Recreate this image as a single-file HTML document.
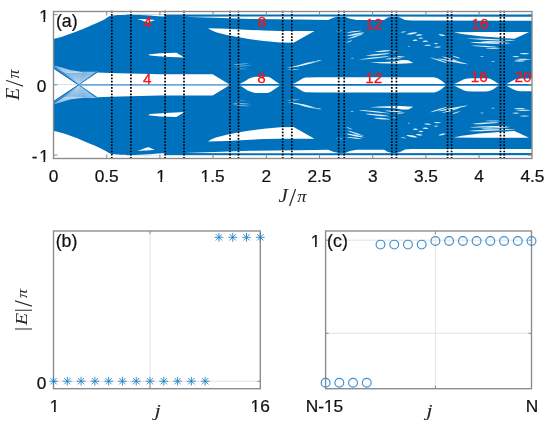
<!DOCTYPE html>
<html><head><meta charset="utf-8"><title>Figure</title>
<style>html,body{margin:0;padding:0;background:#fff;} svg{display:block;}</style>
</head><body>
<svg width="550" height="429" viewBox="0 0 550 429">
<defs><linearGradient id="fang" x1="0" y1="66" x2="0" y2="84" gradientUnits="userSpaceOnUse"><stop offset="0" stop-color="#7fb5e3"/><stop offset="0.5" stop-color="#cfe3f5"/><stop offset="1" stop-color="#eef5fc"/></linearGradient></defs>
<style>.t{stroke:#111;stroke-width:0.22px;}</style>
<rect width="550" height="429" fill="#fff"/>
<line x1="106.70" y1="11.5" x2="106.70" y2="158.5" stroke="#e3e3e3" stroke-width="1"/>
<line x1="159.90" y1="11.5" x2="159.90" y2="158.5" stroke="#e3e3e3" stroke-width="1"/>
<line x1="213.10" y1="11.5" x2="213.10" y2="158.5" stroke="#e3e3e3" stroke-width="1"/>
<line x1="266.30" y1="11.5" x2="266.30" y2="158.5" stroke="#e3e3e3" stroke-width="1"/>
<line x1="319.50" y1="11.5" x2="319.50" y2="158.5" stroke="#e3e3e3" stroke-width="1"/>
<line x1="372.70" y1="11.5" x2="372.70" y2="158.5" stroke="#e3e3e3" stroke-width="1"/>
<line x1="425.90" y1="11.5" x2="425.90" y2="158.5" stroke="#e3e3e3" stroke-width="1"/>
<line x1="479.10" y1="11.5" x2="479.10" y2="158.5" stroke="#e3e3e3" stroke-width="1"/>
<line x1="53.5" y1="14.6" x2="532.0" y2="14.6" stroke="#e3e3e3" stroke-width="1"/>
<line x1="53.5" y1="84.85" x2="532.0" y2="84.85" stroke="#e3e3e3" stroke-width="1"/>
<line x1="53.5" y1="155.1" x2="532.0" y2="155.1" stroke="#e3e3e3" stroke-width="1"/>
<rect x="53.5" y="14.6" width="478.5" height="140.5" fill="#0072bd"/>
<g>
<polygon points="185.50,16.70 250.00,16.50 300.00,16.50 532.00,16.70 532.00,20.80 412.00,20.60 405.00,20.10 400.00,17.60 396.00,16.60 392.00,16.60 388.00,17.60 384.00,20.00 357.00,20.00 350.00,18.80 345.00,16.70 339.00,16.60 334.00,17.60 328.00,19.90 300.00,19.40 250.00,18.90 215.00,17.80 190.00,17.00" fill="#fff" />
<polygon points="128.00,14.50 140.00,14.90 150.00,15.50 158.00,16.20 164.30,16.40 165.20,14.50" fill="#fff" />
<polygon points="208.00,28.30 226.80,28.80 250.00,29.90 264.00,30.60 280.00,30.90 314.50,30.90 293.60,42.70 280.00,42.40 264.00,40.90 248.60,39.00 237.70,37.10 226.80,34.90 215.90,32.20 211.00,30.10" fill="#fff" />
<polygon points="148.20,54.40 160.00,53.30 176.40,52.70 184.50,57.60 170.00,57.00 158.00,56.20 150.00,55.60" fill="#fff" />
<path d="M137.30,18.90 C138.75,18.95 143.15,19.03 146.00,19.20 C148.85,19.37 153.43,19.60 154.40,19.90 C155.37,20.20 152.78,20.58 151.80,21.00 C150.82,21.42 149.63,22.32 148.50,22.40 C147.37,22.48 146.25,21.90 145.00,21.50 C143.75,21.10 141.67,20.25 141.00,20.00 Z" fill="#fff" />
<polygon points="453.80,32.30 480.00,31.90 529.00,31.90 521.00,35.80 514.30,38.80 500.00,37.80 480.00,36.20 462.00,34.00" fill="#fff" />
<polygon points="369.60,62.40 385.00,62.00 395.00,61.50 402.00,60.10 408.40,60.30 413.20,63.00 400.00,63.70 380.00,63.30" fill="#fff" />
<path d="M346.00,32.60 C350.09,32.99 358.09,32.09 362.00,30.80 C357.91,30.41 349.91,31.31 346.00,32.60Z" fill="#fff" opacity="0.9"/>
<path d="M346.00,36.00 C350.82,36.12 360.07,34.32 364.50,32.40 C359.68,32.28 350.43,34.08 346.00,36.00Z" fill="#fff" opacity="0.9"/>
<path d="M347.00,39.20 C351.51,38.60 360.01,35.80 364.00,33.60 C359.49,34.20 350.99,37.00 347.00,39.20Z" fill="#fff" opacity="0.85"/>
<path d="M346.00,42.80 C347.86,42.78 351.11,41.53 352.50,40.30 C350.64,40.32 347.39,41.57 346.00,42.80Z" fill="#fff" opacity="0.7"/>
<path d="M336.00,31.50 C337.82,31.86 341.32,31.41 343.00,30.60 C341.18,30.24 337.68,30.69 336.00,31.50Z" fill="#fff" opacity="0.5"/>
<path d="M400.40,32.60 C402.03,32.94 405.03,32.34 406.40,31.40 C404.77,31.06 401.77,31.66 400.40,32.60Z" fill="#fff" opacity="0.6"/>
<path d="M406.40,34.40 C409.34,35.05 414.79,34.05 417.30,32.40 C414.36,31.75 408.91,32.75 406.40,34.40Z" fill="#fff" opacity="0.95"/>
<path d="M415.60,35.30 C417.46,36.19 421.01,35.89 422.70,34.70 C420.84,33.81 417.29,34.11 415.60,35.30Z" fill="#fff" opacity="0.9"/>
<path d="M418.40,38.20 C419.69,39.08 422.24,39.03 423.50,38.10 C422.21,37.22 419.66,37.27 418.40,38.20Z" fill="#fff" opacity="0.85"/>
<path d="M412.50,40.40 C413.89,41.35 416.64,41.30 418.00,40.30 C416.61,39.35 413.86,39.40 412.50,40.40Z" fill="#fff" opacity="0.85"/>
<path d="M422.20,41.40 C423.79,42.35 426.94,42.30 428.50,41.30 C426.91,40.35 423.76,40.40 422.20,41.40Z" fill="#fff" opacity="0.85"/>
<path d="M433.60,43.60 C434.83,44.45 437.27,44.45 438.50,43.60 C437.27,42.76 434.83,42.76 433.60,43.60Z" fill="#fff" opacity="0.8"/>
<path d="M423.80,45.60 C425.73,46.37 429.53,46.22 431.40,45.30 C429.47,44.53 425.67,44.68 423.80,45.60Z" fill="#fff" opacity="0.8"/>
<path d="M433.60,47.20 C435.56,47.97 439.41,47.82 441.30,46.90 C439.34,46.13 435.49,46.28 433.60,47.20Z" fill="#fff" opacity="0.8"/>
<path d="M438.50,34.40 C440.07,35.73 443.62,36.48 445.60,35.90 C444.03,34.57 440.48,33.82 438.50,34.40Z" fill="#fff" opacity="0.85"/>
<path d="M407.50,46.40 C408.12,47.05 409.38,47.05 410.00,46.40 C409.38,45.75 408.12,45.75 407.50,46.40Z" fill="#fff" opacity="0.6"/>
<path d="M373.60,51.80 C378.12,52.29 387.02,51.59 391.40,50.40 C386.88,49.91 377.98,50.61 373.60,51.80Z" fill="#fff" opacity="0.85"/>
<path d="M365.50,55.80 C371.71,56.04 383.96,54.84 390.00,53.40 C383.79,53.16 371.54,54.36 365.50,55.80Z" fill="#fff" opacity="0.85"/>
<path d="M358.60,59.60 C366.54,59.59 382.24,57.89 390.00,56.20 C382.06,56.21 366.36,57.91 358.60,59.60Z" fill="#fff" opacity="0.85"/>
<path d="M350.50,58.30 C351.43,58.87 353.18,58.72 354.00,58.00 C353.07,57.43 351.32,57.58 350.50,58.30Z" fill="#fff" opacity="0.6"/>
<path d="M384.60,59.00 C389.07,59.53 397.92,59.03 402.30,58.00 C397.83,57.47 388.98,57.97 384.60,59.00Z" fill="#fff" opacity="0.8"/>
<path d="M394.00,56.20 C396.70,57.15 402.20,57.50 405.00,56.90 C402.30,55.95 396.80,55.60 394.00,56.20Z" fill="#fff" opacity="0.8"/>
<path d="M392.00,52.00 C393.28,52.60 395.78,52.50 397.00,51.80 C395.72,51.20 393.22,51.30 392.00,52.00Z" fill="#fff" opacity="0.6"/>
<path d="M287.00,67.80 C291.86,67.62 301.36,65.97 306.00,64.50 C301.14,64.68 291.64,66.33 287.00,67.80Z" fill="#fff" opacity="0.75"/>
<path d="M293.00,67.00 C297.90,66.70 307.40,64.70 312.00,63.00 C307.10,63.30 297.60,65.30 293.00,67.00Z" fill="#fff" opacity="0.85"/>
<path d="M298.00,65.30 C302.88,65.13 312.38,63.38 317.00,61.80 C312.12,61.97 302.62,63.72 298.00,65.30Z" fill="#fff" opacity="0.85"/>
<path d="M303.00,63.80 C306.86,63.68 314.36,62.28 318.00,61.00 C314.14,61.12 306.64,62.52 303.00,63.80Z" fill="#fff" opacity="0.7"/>
<path d="M316.00,61.20 C317.45,61.70 320.20,61.40 321.50,60.60 C320.05,60.10 317.30,60.40 316.00,61.20Z" fill="#fff" opacity="0.8"/>
<path d="M287.00,69.20 C290.22,69.92 296.72,70.32 300.00,70.00 C296.78,69.28 290.28,68.88 287.00,69.20Z" fill="#fff" opacity="0.6"/>
<path d="M232.30,66.50 C237.23,66.83 247.03,66.33 251.90,65.50 C246.97,65.17 237.17,65.67 232.30,66.50Z" fill="#fff" opacity="0.5"/>
<path d="M232.00,65.10 C236.56,65.23 245.56,64.33 250.00,63.30 C245.44,63.17 236.44,64.07 232.00,65.10Z" fill="#fff" opacity="0.5"/>
<path d="M235.00,68.70 C237.98,69.32 243.98,69.52 247.00,69.10 C244.02,68.48 238.02,68.28 235.00,68.70Z" fill="#fff" opacity="0.45"/>
<path d="M430.00,57.50 C434.52,59.70 444.02,62.60 449.00,63.30 C444.48,61.10 434.98,58.20 430.00,57.50Z" fill="#fff" opacity="0.85"/>
<path d="M437.60,58.50 C445.07,60.88 460.37,63.73 468.20,64.20 C460.73,61.82 445.43,58.97 437.60,58.50Z" fill="#fff" opacity="0.9"/>
<path d="M441.50,56.60 C446.01,58.83 455.51,61.68 460.50,62.30 C455.99,60.07 446.49,57.22 441.50,56.60Z" fill="#fff" opacity="0.85"/>
<path d="M451.00,55.60 C453.17,57.01 457.92,58.46 460.50,58.50 C458.33,57.09 453.58,55.64 451.00,55.60Z" fill="#fff" opacity="0.8"/>
<path d="M480.00,56.60 C481.00,57.25 483.00,57.25 484.00,56.60 C483.00,55.95 481.00,55.95 480.00,56.60Z" fill="#fff" opacity="0.6"/>
<path d="M491.00,61.40 C492.00,62.05 494.00,62.05 495.00,61.40 C494.00,60.75 492.00,60.75 491.00,61.40Z" fill="#fff" opacity="0.6"/>
<path d="M512.00,56.60 C513.92,57.38 517.78,57.38 519.70,56.60 C517.78,55.82 513.92,55.82 512.00,56.60Z" fill="#fff" opacity="0.85"/>
<path d="M519.70,53.70 C522.08,54.48 526.83,54.48 529.20,53.70 C526.83,52.92 522.08,52.92 519.70,53.70Z" fill="#fff" opacity="0.85"/>
<path d="M514.00,61.00 C516.85,61.84 522.55,61.84 525.40,61.00 C522.55,60.16 516.85,60.16 514.00,61.00Z" fill="#fff" opacity="0.85"/>
<path d="M515.90,59.30 C519.66,60.13 527.21,60.23 531.00,59.50 C527.24,58.67 519.69,58.57 515.90,59.30Z" fill="#fff" opacity="0.8"/>
<path d="M485.30,48.60 C489.12,49.25 496.78,49.25 500.60,48.60 C496.78,47.95 489.12,47.95 485.30,48.60Z" fill="#fff" opacity="0.7"/>
<path d="M466.00,38.60 C478.46,40.01 503.46,41.01 516.00,40.60 C503.54,39.19 478.54,38.19 466.00,38.60Z" fill="#fff" opacity="0.9"/>
<path d="M469.50,42.40 C479.73,43.56 500.23,44.06 510.50,43.40 C500.27,42.24 479.77,41.74 469.50,42.40Z" fill="#fff" opacity="0.9"/>
<path d="M471.00,45.60 C477.95,46.87 491.95,47.72 499.00,47.30 C492.05,46.03 478.05,45.18 471.00,45.60Z" fill="#fff" opacity="0.85"/>
<path d="M480.00,41.20 C487.38,42.16 502.18,42.66 509.60,42.20 C502.22,41.24 487.42,40.74 480.00,41.20Z" fill="#fff" opacity="0.8"/>
<polygon points="79.30,84.85 97.50,72.40 110.00,72.90 140.00,73.70 160.00,74.20 212.70,74.30 218.00,77.50 225.00,81.80 230.00,84.85" fill="#fff" />
<path d="M238.10,84.85 C239.07,84.34 242.20,82.79 243.90,81.80 C245.60,80.81 246.60,79.70 248.30,78.90 C250.00,78.10 251.98,77.35 254.10,77.00 C256.22,76.65 258.58,76.80 261.00,76.80 C263.42,76.80 266.35,76.40 268.60,77.00 C270.85,77.60 272.43,79.09 274.50,80.40 C276.57,81.71 279.92,84.11 281.00,84.85 Z" fill="#fff" />
<polygon points="290.50,84.85 295.00,83.10 299.00,80.70 302.50,78.50 305.50,77.50 320.00,77.30 380.00,77.30 434.00,77.30 437.50,78.20 441.00,80.30 444.00,82.80 446.40,84.85" fill="#fff" />
<polygon points="452.00,84.85 456.00,83.30 460.00,81.20 464.00,79.30 467.50,78.40 472.00,78.20 486.00,78.20 489.50,78.60 493.00,80.30 496.50,82.60 500.00,84.85" fill="#fff" />
<polygon points="504.50,84.85 508.00,83.30 512.00,81.00 516.00,79.10 520.00,78.50 532.00,78.40 532.00,84.85" fill="#fff" />
<polygon points="53.80,68.40 78.60,84.85 53.80,84.85" fill="#fff" />
<polygon points="53.80,65.40 62.00,67.60 70.10,70.10 81.20,71.80 94.90,71.80 98.30,71.60 95.70,72.30 78.60,84.85 53.80,68.40" fill="url(#fang)" />
<path d="M53.80,68.18 C56.56,70.01 74.55,82.05 77.48,83.88 C80.40,85.71 76.87,85.24 78.88,83.88 C80.89,82.53 92.85,73.62 94.70,72.27" fill="none" stroke="#2a82c9" stroke-width="0.55" opacity="0.48"/>
<path d="M53.80,67.95 C56.43,69.70 73.39,81.17 76.35,82.91 C79.31,84.66 77.13,84.16 79.16,82.91 C81.18,81.67 92.00,73.48 93.70,72.24" fill="none" stroke="#2a82c9" stroke-width="0.55" opacity="0.51"/>
<path d="M53.80,67.73 C56.30,69.39 72.23,80.28 75.23,81.94 C78.22,83.60 77.40,83.08 79.44,81.94 C81.47,80.81 91.15,73.34 92.70,72.21" fill="none" stroke="#2a82c9" stroke-width="0.55" opacity="0.54"/>
<path d="M53.80,67.51 C56.17,69.08 71.08,79.40 74.10,80.97 C77.12,82.54 77.66,82.00 79.71,80.97 C81.77,79.95 90.30,73.20 91.70,72.18" fill="none" stroke="#2a82c9" stroke-width="0.55" opacity="0.57"/>
<path d="M53.80,67.28 C56.04,68.77 69.92,78.52 72.98,80.00 C76.03,81.49 77.93,80.92 79.99,80.00 C82.06,79.09 89.45,73.06 90.70,72.15" fill="none" stroke="#2a82c9" stroke-width="0.55" opacity="0.60"/>
<path d="M53.80,67.06 C55.91,68.46 68.76,77.64 71.85,79.03 C74.94,80.43 78.19,79.84 80.27,79.03 C82.35,78.23 88.60,72.92 89.70,72.12" fill="none" stroke="#2a82c9" stroke-width="0.55" opacity="0.63"/>
<path d="M53.80,66.84 C55.77,68.15 67.60,76.76 70.73,78.07 C73.85,79.38 78.45,78.76 80.55,78.07 C82.65,77.37 87.75,72.78 88.70,72.08" fill="none" stroke="#2a82c9" stroke-width="0.55" opacity="0.67"/>
<path d="M53.80,66.62 C55.64,67.84 66.45,75.87 69.60,77.10 C72.75,78.32 78.72,77.68 80.83,77.10 C82.94,76.51 86.90,72.64 87.70,72.05" fill="none" stroke="#2a82c9" stroke-width="0.55" opacity="0.70"/>
<path d="M53.80,66.39 C55.51,67.53 65.29,74.99 68.48,76.13 C71.66,77.26 78.98,76.61 81.11,76.13 C83.23,75.65 86.05,72.50 86.70,72.02" fill="none" stroke="#2a82c9" stroke-width="0.55" opacity="0.73"/>
<path d="M53.80,66.17 C55.38,67.22 64.13,74.11 67.35,75.16 C70.57,76.21 79.25,75.53 81.39,75.16 C83.53,74.79 85.20,72.36 85.70,71.99" fill="none" stroke="#2a82c9" stroke-width="0.55" opacity="0.76"/>
<path d="M53.80,65.95 C55.25,66.91 62.98,73.23 66.23,74.19 C69.48,75.15 79.51,74.45 81.67,74.19 C83.82,73.93 84.35,72.22 84.70,71.96" fill="none" stroke="#2a82c9" stroke-width="0.55" opacity="0.79"/>
<path d="M53.80,65.72 C55.12,66.60 61.82,72.34 65.10,73.22 C68.38,74.09 79.77,73.37 81.94,73.22 C84.11,73.07 83.50,72.08 83.70,71.93" fill="none" stroke="#2a82c9" stroke-width="0.55" opacity="0.82"/>
<polyline points="53.8,68.4 78.6,84.85" fill="none" stroke="#0072bd" stroke-width="1.0"/>
<polyline points="78.6,84.85 95.7,72.3" fill="none" stroke="#3585cc" stroke-width="0.8"/>
</g>
<g transform="translate(0,169.7) scale(1,-1)">
<polygon points="185.50,16.70 250.00,16.50 300.00,16.50 532.00,16.70 532.00,20.80 412.00,20.60 405.00,20.10 400.00,17.60 396.00,16.60 392.00,16.60 388.00,17.60 384.00,20.00 357.00,20.00 350.00,18.80 345.00,16.70 339.00,16.60 334.00,17.60 328.00,19.90 300.00,19.40 250.00,18.90 215.00,17.80 190.00,17.00" fill="#fff" />
<polygon points="128.00,14.50 140.00,14.90 150.00,15.50 158.00,16.20 164.30,16.40 165.20,14.50" fill="#fff" />
<polygon points="208.00,28.30 226.80,28.80 250.00,29.90 264.00,30.60 280.00,30.90 314.50,30.90 293.60,42.70 280.00,42.40 264.00,40.90 248.60,39.00 237.70,37.10 226.80,34.90 215.90,32.20 211.00,30.10" fill="#fff" />
<polygon points="148.20,54.40 160.00,53.30 176.40,52.70 184.50,57.60 170.00,57.00 158.00,56.20 150.00,55.60" fill="#fff" />
<path d="M137.30,18.90 C138.75,18.95 143.15,19.03 146.00,19.20 C148.85,19.37 153.43,19.60 154.40,19.90 C155.37,20.20 152.78,20.58 151.80,21.00 C150.82,21.42 149.63,22.32 148.50,22.40 C147.37,22.48 146.25,21.90 145.00,21.50 C143.75,21.10 141.67,20.25 141.00,20.00 Z" fill="#fff" />
<polygon points="453.80,32.30 480.00,31.90 529.00,31.90 521.00,35.80 514.30,38.80 500.00,37.80 480.00,36.20 462.00,34.00" fill="#fff" />
<polygon points="369.60,62.40 385.00,62.00 395.00,61.50 402.00,60.10 408.40,60.30 413.20,63.00 400.00,63.70 380.00,63.30" fill="#fff" />
<path d="M346.00,32.60 C350.09,32.99 358.09,32.09 362.00,30.80 C357.91,30.41 349.91,31.31 346.00,32.60Z" fill="#fff" opacity="0.9"/>
<path d="M346.00,36.00 C350.82,36.12 360.07,34.32 364.50,32.40 C359.68,32.28 350.43,34.08 346.00,36.00Z" fill="#fff" opacity="0.9"/>
<path d="M347.00,39.20 C351.51,38.60 360.01,35.80 364.00,33.60 C359.49,34.20 350.99,37.00 347.00,39.20Z" fill="#fff" opacity="0.85"/>
<path d="M346.00,42.80 C347.86,42.78 351.11,41.53 352.50,40.30 C350.64,40.32 347.39,41.57 346.00,42.80Z" fill="#fff" opacity="0.7"/>
<path d="M336.00,31.50 C337.82,31.86 341.32,31.41 343.00,30.60 C341.18,30.24 337.68,30.69 336.00,31.50Z" fill="#fff" opacity="0.5"/>
<path d="M400.40,32.60 C402.03,32.94 405.03,32.34 406.40,31.40 C404.77,31.06 401.77,31.66 400.40,32.60Z" fill="#fff" opacity="0.6"/>
<path d="M406.40,34.40 C409.34,35.05 414.79,34.05 417.30,32.40 C414.36,31.75 408.91,32.75 406.40,34.40Z" fill="#fff" opacity="0.95"/>
<path d="M415.60,35.30 C417.46,36.19 421.01,35.89 422.70,34.70 C420.84,33.81 417.29,34.11 415.60,35.30Z" fill="#fff" opacity="0.9"/>
<path d="M418.40,38.20 C419.69,39.08 422.24,39.03 423.50,38.10 C422.21,37.22 419.66,37.27 418.40,38.20Z" fill="#fff" opacity="0.85"/>
<path d="M412.50,40.40 C413.89,41.35 416.64,41.30 418.00,40.30 C416.61,39.35 413.86,39.40 412.50,40.40Z" fill="#fff" opacity="0.85"/>
<path d="M422.20,41.40 C423.79,42.35 426.94,42.30 428.50,41.30 C426.91,40.35 423.76,40.40 422.20,41.40Z" fill="#fff" opacity="0.85"/>
<path d="M433.60,43.60 C434.83,44.45 437.27,44.45 438.50,43.60 C437.27,42.76 434.83,42.76 433.60,43.60Z" fill="#fff" opacity="0.8"/>
<path d="M423.80,45.60 C425.73,46.37 429.53,46.22 431.40,45.30 C429.47,44.53 425.67,44.68 423.80,45.60Z" fill="#fff" opacity="0.8"/>
<path d="M433.60,47.20 C435.56,47.97 439.41,47.82 441.30,46.90 C439.34,46.13 435.49,46.28 433.60,47.20Z" fill="#fff" opacity="0.8"/>
<path d="M438.50,34.40 C440.07,35.73 443.62,36.48 445.60,35.90 C444.03,34.57 440.48,33.82 438.50,34.40Z" fill="#fff" opacity="0.85"/>
<path d="M407.50,46.40 C408.12,47.05 409.38,47.05 410.00,46.40 C409.38,45.75 408.12,45.75 407.50,46.40Z" fill="#fff" opacity="0.6"/>
<path d="M373.60,51.80 C378.12,52.29 387.02,51.59 391.40,50.40 C386.88,49.91 377.98,50.61 373.60,51.80Z" fill="#fff" opacity="0.85"/>
<path d="M365.50,55.80 C371.71,56.04 383.96,54.84 390.00,53.40 C383.79,53.16 371.54,54.36 365.50,55.80Z" fill="#fff" opacity="0.85"/>
<path d="M358.60,59.60 C366.54,59.59 382.24,57.89 390.00,56.20 C382.06,56.21 366.36,57.91 358.60,59.60Z" fill="#fff" opacity="0.85"/>
<path d="M350.50,58.30 C351.43,58.87 353.18,58.72 354.00,58.00 C353.07,57.43 351.32,57.58 350.50,58.30Z" fill="#fff" opacity="0.6"/>
<path d="M384.60,59.00 C389.07,59.53 397.92,59.03 402.30,58.00 C397.83,57.47 388.98,57.97 384.60,59.00Z" fill="#fff" opacity="0.8"/>
<path d="M394.00,56.20 C396.70,57.15 402.20,57.50 405.00,56.90 C402.30,55.95 396.80,55.60 394.00,56.20Z" fill="#fff" opacity="0.8"/>
<path d="M392.00,52.00 C393.28,52.60 395.78,52.50 397.00,51.80 C395.72,51.20 393.22,51.30 392.00,52.00Z" fill="#fff" opacity="0.6"/>
<path d="M287.00,67.80 C291.86,67.62 301.36,65.97 306.00,64.50 C301.14,64.68 291.64,66.33 287.00,67.80Z" fill="#fff" opacity="0.75"/>
<path d="M293.00,67.00 C297.90,66.70 307.40,64.70 312.00,63.00 C307.10,63.30 297.60,65.30 293.00,67.00Z" fill="#fff" opacity="0.85"/>
<path d="M298.00,65.30 C302.88,65.13 312.38,63.38 317.00,61.80 C312.12,61.97 302.62,63.72 298.00,65.30Z" fill="#fff" opacity="0.85"/>
<path d="M303.00,63.80 C306.86,63.68 314.36,62.28 318.00,61.00 C314.14,61.12 306.64,62.52 303.00,63.80Z" fill="#fff" opacity="0.7"/>
<path d="M316.00,61.20 C317.45,61.70 320.20,61.40 321.50,60.60 C320.05,60.10 317.30,60.40 316.00,61.20Z" fill="#fff" opacity="0.8"/>
<path d="M287.00,69.20 C290.22,69.92 296.72,70.32 300.00,70.00 C296.78,69.28 290.28,68.88 287.00,69.20Z" fill="#fff" opacity="0.6"/>
<path d="M232.30,66.50 C237.23,66.83 247.03,66.33 251.90,65.50 C246.97,65.17 237.17,65.67 232.30,66.50Z" fill="#fff" opacity="0.5"/>
<path d="M232.00,65.10 C236.56,65.23 245.56,64.33 250.00,63.30 C245.44,63.17 236.44,64.07 232.00,65.10Z" fill="#fff" opacity="0.5"/>
<path d="M235.00,68.70 C237.98,69.32 243.98,69.52 247.00,69.10 C244.02,68.48 238.02,68.28 235.00,68.70Z" fill="#fff" opacity="0.45"/>
<path d="M430.00,57.50 C434.52,59.70 444.02,62.60 449.00,63.30 C444.48,61.10 434.98,58.20 430.00,57.50Z" fill="#fff" opacity="0.85"/>
<path d="M437.60,58.50 C445.07,60.88 460.37,63.73 468.20,64.20 C460.73,61.82 445.43,58.97 437.60,58.50Z" fill="#fff" opacity="0.9"/>
<path d="M441.50,56.60 C446.01,58.83 455.51,61.68 460.50,62.30 C455.99,60.07 446.49,57.22 441.50,56.60Z" fill="#fff" opacity="0.85"/>
<path d="M451.00,55.60 C453.17,57.01 457.92,58.46 460.50,58.50 C458.33,57.09 453.58,55.64 451.00,55.60Z" fill="#fff" opacity="0.8"/>
<path d="M480.00,56.60 C481.00,57.25 483.00,57.25 484.00,56.60 C483.00,55.95 481.00,55.95 480.00,56.60Z" fill="#fff" opacity="0.6"/>
<path d="M491.00,61.40 C492.00,62.05 494.00,62.05 495.00,61.40 C494.00,60.75 492.00,60.75 491.00,61.40Z" fill="#fff" opacity="0.6"/>
<path d="M512.00,56.60 C513.92,57.38 517.78,57.38 519.70,56.60 C517.78,55.82 513.92,55.82 512.00,56.60Z" fill="#fff" opacity="0.85"/>
<path d="M519.70,53.70 C522.08,54.48 526.83,54.48 529.20,53.70 C526.83,52.92 522.08,52.92 519.70,53.70Z" fill="#fff" opacity="0.85"/>
<path d="M514.00,61.00 C516.85,61.84 522.55,61.84 525.40,61.00 C522.55,60.16 516.85,60.16 514.00,61.00Z" fill="#fff" opacity="0.85"/>
<path d="M515.90,59.30 C519.66,60.13 527.21,60.23 531.00,59.50 C527.24,58.67 519.69,58.57 515.90,59.30Z" fill="#fff" opacity="0.8"/>
<path d="M485.30,48.60 C489.12,49.25 496.78,49.25 500.60,48.60 C496.78,47.95 489.12,47.95 485.30,48.60Z" fill="#fff" opacity="0.7"/>
<path d="M466.00,38.60 C478.46,40.01 503.46,41.01 516.00,40.60 C503.54,39.19 478.54,38.19 466.00,38.60Z" fill="#fff" opacity="0.9"/>
<path d="M469.50,42.40 C479.73,43.56 500.23,44.06 510.50,43.40 C500.27,42.24 479.77,41.74 469.50,42.40Z" fill="#fff" opacity="0.9"/>
<path d="M471.00,45.60 C477.95,46.87 491.95,47.72 499.00,47.30 C492.05,46.03 478.05,45.18 471.00,45.60Z" fill="#fff" opacity="0.85"/>
<path d="M480.00,41.20 C487.38,42.16 502.18,42.66 509.60,42.20 C502.22,41.24 487.42,40.74 480.00,41.20Z" fill="#fff" opacity="0.8"/>
<polygon points="79.30,84.85 97.50,72.40 110.00,72.90 140.00,73.70 160.00,74.20 212.70,74.30 218.00,77.50 225.00,81.80 230.00,84.85" fill="#fff" />
<path d="M238.10,84.85 C239.07,84.34 242.20,82.79 243.90,81.80 C245.60,80.81 246.60,79.70 248.30,78.90 C250.00,78.10 251.98,77.35 254.10,77.00 C256.22,76.65 258.58,76.80 261.00,76.80 C263.42,76.80 266.35,76.40 268.60,77.00 C270.85,77.60 272.43,79.09 274.50,80.40 C276.57,81.71 279.92,84.11 281.00,84.85 Z" fill="#fff" />
<polygon points="290.50,84.85 295.00,83.10 299.00,80.70 302.50,78.50 305.50,77.50 320.00,77.30 380.00,77.30 434.00,77.30 437.50,78.20 441.00,80.30 444.00,82.80 446.40,84.85" fill="#fff" />
<polygon points="452.00,84.85 456.00,83.30 460.00,81.20 464.00,79.30 467.50,78.40 472.00,78.20 486.00,78.20 489.50,78.60 493.00,80.30 496.50,82.60 500.00,84.85" fill="#fff" />
<polygon points="504.50,84.85 508.00,83.30 512.00,81.00 516.00,79.10 520.00,78.50 532.00,78.40 532.00,84.85" fill="#fff" />
<polygon points="53.80,68.40 78.60,84.85 53.80,84.85" fill="#fff" />
<polygon points="53.80,65.40 62.00,67.60 70.10,70.10 81.20,71.80 94.90,71.80 98.30,71.60 95.70,72.30 78.60,84.85 53.80,68.40" fill="url(#fang)" />
<path d="M53.80,68.18 C56.56,70.01 74.55,82.05 77.48,83.88 C80.40,85.71 76.87,85.24 78.88,83.88 C80.89,82.53 92.85,73.62 94.70,72.27" fill="none" stroke="#2a82c9" stroke-width="0.55" opacity="0.48"/>
<path d="M53.80,67.95 C56.43,69.70 73.39,81.17 76.35,82.91 C79.31,84.66 77.13,84.16 79.16,82.91 C81.18,81.67 92.00,73.48 93.70,72.24" fill="none" stroke="#2a82c9" stroke-width="0.55" opacity="0.51"/>
<path d="M53.80,67.73 C56.30,69.39 72.23,80.28 75.23,81.94 C78.22,83.60 77.40,83.08 79.44,81.94 C81.47,80.81 91.15,73.34 92.70,72.21" fill="none" stroke="#2a82c9" stroke-width="0.55" opacity="0.54"/>
<path d="M53.80,67.51 C56.17,69.08 71.08,79.40 74.10,80.97 C77.12,82.54 77.66,82.00 79.71,80.97 C81.77,79.95 90.30,73.20 91.70,72.18" fill="none" stroke="#2a82c9" stroke-width="0.55" opacity="0.57"/>
<path d="M53.80,67.28 C56.04,68.77 69.92,78.52 72.98,80.00 C76.03,81.49 77.93,80.92 79.99,80.00 C82.06,79.09 89.45,73.06 90.70,72.15" fill="none" stroke="#2a82c9" stroke-width="0.55" opacity="0.60"/>
<path d="M53.80,67.06 C55.91,68.46 68.76,77.64 71.85,79.03 C74.94,80.43 78.19,79.84 80.27,79.03 C82.35,78.23 88.60,72.92 89.70,72.12" fill="none" stroke="#2a82c9" stroke-width="0.55" opacity="0.63"/>
<path d="M53.80,66.84 C55.77,68.15 67.60,76.76 70.73,78.07 C73.85,79.38 78.45,78.76 80.55,78.07 C82.65,77.37 87.75,72.78 88.70,72.08" fill="none" stroke="#2a82c9" stroke-width="0.55" opacity="0.67"/>
<path d="M53.80,66.62 C55.64,67.84 66.45,75.87 69.60,77.10 C72.75,78.32 78.72,77.68 80.83,77.10 C82.94,76.51 86.90,72.64 87.70,72.05" fill="none" stroke="#2a82c9" stroke-width="0.55" opacity="0.70"/>
<path d="M53.80,66.39 C55.51,67.53 65.29,74.99 68.48,76.13 C71.66,77.26 78.98,76.61 81.11,76.13 C83.23,75.65 86.05,72.50 86.70,72.02" fill="none" stroke="#2a82c9" stroke-width="0.55" opacity="0.73"/>
<path d="M53.80,66.17 C55.38,67.22 64.13,74.11 67.35,75.16 C70.57,76.21 79.25,75.53 81.39,75.16 C83.53,74.79 85.20,72.36 85.70,71.99" fill="none" stroke="#2a82c9" stroke-width="0.55" opacity="0.76"/>
<path d="M53.80,65.95 C55.25,66.91 62.98,73.23 66.23,74.19 C69.48,75.15 79.51,74.45 81.67,74.19 C83.82,73.93 84.35,72.22 84.70,71.96" fill="none" stroke="#2a82c9" stroke-width="0.55" opacity="0.79"/>
<path d="M53.80,65.72 C55.12,66.60 61.82,72.34 65.10,73.22 C68.38,74.09 79.77,73.37 81.94,73.22 C84.11,73.07 83.50,72.08 83.70,71.93" fill="none" stroke="#2a82c9" stroke-width="0.55" opacity="0.82"/>
<polyline points="53.8,68.4 78.6,84.85" fill="none" stroke="#0072bd" stroke-width="1.0"/>
<polyline points="78.6,84.85 95.7,72.3" fill="none" stroke="#3585cc" stroke-width="0.8"/>
</g>
<path d="M53.5,11.8 L53.5,38.9 C55.07,38.48 59.52,37.45 62.90,36.40 C66.28,35.35 70.17,33.97 73.80,32.60 C77.43,31.23 82.00,29.32 84.70,28.20 C87.40,27.08 88.18,26.67 90.00,25.90 C91.82,25.13 93.22,24.68 95.60,23.60 C97.98,22.53 102.07,20.62 104.30,19.45 C106.53,18.28 107.67,17.24 109.00,16.60 C110.33,15.96 111.10,15.83 112.30,15.60 C113.50,15.37 113.92,15.33 116.20,15.20 C118.48,15.07 124.37,14.87 126.00,14.80 L126,11.8 Z" fill="#fff"/>
<path d="M53.5,158.0 L53.5,130.8 C55.07,131.22 59.52,132.25 62.90,133.30 C66.28,134.35 70.17,135.73 73.80,137.10 C77.43,138.47 82.00,140.38 84.70,141.50 C87.40,142.62 88.18,143.03 90.00,143.80 C91.82,144.57 93.22,145.03 95.60,146.10 C97.98,147.17 102.07,149.08 104.30,150.25 C106.53,151.42 107.67,152.46 109.00,153.10 C110.33,153.74 111.10,153.87 112.30,154.10 C113.50,154.33 113.92,154.37 116.20,154.50 C118.48,154.63 124.37,154.83 126.00,154.90 L126,158.0 Z" fill="#fff"/>
<line x1="79.3" y1="84.85" x2="229.5" y2="84.85" stroke="#6fa8dc" stroke-width="1.7"/>
<line x1="238" y1="84.85" x2="532.0" y2="84.85" stroke="#0a74c0" stroke-width="1.8"/>
<line x1="111.8" y1="10.75" x2="111.8" y2="158.5" stroke="#000" stroke-width="1.7" stroke-dasharray="1.7 1.48"/>
<line x1="130.9" y1="10.75" x2="130.9" y2="158.5" stroke="#000" stroke-width="1.7" stroke-dasharray="1.7 1.48"/>
<line x1="165.1" y1="10.75" x2="165.1" y2="158.5" stroke="#000" stroke-width="1.7" stroke-dasharray="1.7 1.48"/>
<line x1="184.0" y1="10.75" x2="184.0" y2="158.5" stroke="#000" stroke-width="1.7" stroke-dasharray="1.7 1.48"/>
<line x1="230.0" y1="10.75" x2="230.0" y2="158.5" stroke="#000" stroke-width="1.7" stroke-dasharray="1.7 1.48"/>
<line x1="238.5" y1="10.75" x2="238.5" y2="158.5" stroke="#000" stroke-width="1.7" stroke-dasharray="1.7 1.48"/>
<line x1="282.7" y1="10.75" x2="282.7" y2="158.5" stroke="#000" stroke-width="1.7" stroke-dasharray="1.7 1.48"/>
<line x1="291.8" y1="10.75" x2="291.8" y2="158.5" stroke="#000" stroke-width="1.7" stroke-dasharray="1.7 1.48"/>
<line x1="338.7" y1="10.75" x2="338.7" y2="158.5" stroke="#000" stroke-width="1.7" stroke-dasharray="1.7 1.48"/>
<line x1="344.2" y1="10.75" x2="344.2" y2="158.5" stroke="#000" stroke-width="1.7" stroke-dasharray="1.7 1.48"/>
<line x1="391.8" y1="10.75" x2="391.8" y2="158.5" stroke="#000" stroke-width="1.7" stroke-dasharray="1.7 1.48"/>
<line x1="396.4" y1="10.75" x2="396.4" y2="158.5" stroke="#000" stroke-width="1.7" stroke-dasharray="1.7 1.48"/>
<line x1="447.6" y1="10.75" x2="447.6" y2="158.5" stroke="#000" stroke-width="1.7" stroke-dasharray="1.7 1.48"/>
<line x1="451.6" y1="10.75" x2="451.6" y2="158.5" stroke="#000" stroke-width="1.7" stroke-dasharray="1.7 1.48"/>
<line x1="500.5" y1="10.75" x2="500.5" y2="158.5" stroke="#000" stroke-width="1.7" stroke-dasharray="1.7 1.48"/>
<line x1="504.2" y1="10.75" x2="504.2" y2="158.5" stroke="#000" stroke-width="1.7" stroke-dasharray="1.7 1.48"/>
<text x="143.57" y="27.00" font-family='"Liberation Sans", Arial, sans-serif' font-style="normal" font-size="15.20" fill="#ff1010" style="font-kerning:none" stroke="#ff1010" stroke-width="0.3">4</text>
<text x="257.67" y="27.35" font-family='"Liberation Sans", Arial, sans-serif' font-style="normal" font-size="15.20" fill="#ff1010" style="font-kerning:none" stroke="#ff1010" stroke-width="0.3">8</text>
<text x="365.45" y="28.80" font-family='"Liberation Sans", Arial, sans-serif' font-style="normal" font-size="15.20" fill="#ff1010" style="font-kerning:none" stroke="#ff1010" stroke-width="0.3">12</text>
<text x="471.50" y="28.65" font-family='"Liberation Sans", Arial, sans-serif' font-style="normal" font-size="15.20" fill="#ff1010" style="font-kerning:none" stroke="#ff1010" stroke-width="0.3">16</text>
<text x="142.92" y="83.60" font-family='"Liberation Sans", Arial, sans-serif' font-style="normal" font-size="15.20" fill="#ff1010" style="font-kerning:none" stroke="#ff1010" stroke-width="0.3">4</text>
<text x="257.32" y="83.45" font-family='"Liberation Sans", Arial, sans-serif' font-style="normal" font-size="15.20" fill="#ff1010" style="font-kerning:none" stroke="#ff1010" stroke-width="0.3">8</text>
<text x="365.20" y="82.60" font-family='"Liberation Sans", Arial, sans-serif' font-style="normal" font-size="15.20" fill="#ff1010" style="font-kerning:none" stroke="#ff1010" stroke-width="0.3">12</text>
<text x="470.70" y="82.05" font-family='"Liberation Sans", Arial, sans-serif' font-style="normal" font-size="15.20" fill="#ff1010" style="font-kerning:none" stroke="#ff1010" stroke-width="0.3">16</text>
<text x="514.61" y="82.05" font-family='"Liberation Sans", Arial, sans-serif' font-style="normal" font-size="15.20" fill="#ff1010" style="font-kerning:none" stroke="#ff1010" stroke-width="0.3">20</text>
<rect x="53.5" y="11.5" width="478.5" height="147.0" fill="none" stroke="#8a8a8a" stroke-width="1.35"/>
<line x1="106.70" y1="158.5" x2="106.70" y2="154.5" stroke="#8a8a8a" stroke-width="1"/>
<line x1="106.70" y1="11.5" x2="106.70" y2="15.5" stroke="#8a8a8a" stroke-width="1"/>
<line x1="159.90" y1="158.5" x2="159.90" y2="154.5" stroke="#8a8a8a" stroke-width="1"/>
<line x1="159.90" y1="11.5" x2="159.90" y2="15.5" stroke="#8a8a8a" stroke-width="1"/>
<line x1="213.10" y1="158.5" x2="213.10" y2="154.5" stroke="#8a8a8a" stroke-width="1"/>
<line x1="213.10" y1="11.5" x2="213.10" y2="15.5" stroke="#8a8a8a" stroke-width="1"/>
<line x1="266.30" y1="158.5" x2="266.30" y2="154.5" stroke="#8a8a8a" stroke-width="1"/>
<line x1="266.30" y1="11.5" x2="266.30" y2="15.5" stroke="#8a8a8a" stroke-width="1"/>
<line x1="319.50" y1="158.5" x2="319.50" y2="154.5" stroke="#8a8a8a" stroke-width="1"/>
<line x1="319.50" y1="11.5" x2="319.50" y2="15.5" stroke="#8a8a8a" stroke-width="1"/>
<line x1="372.70" y1="158.5" x2="372.70" y2="154.5" stroke="#8a8a8a" stroke-width="1"/>
<line x1="372.70" y1="11.5" x2="372.70" y2="15.5" stroke="#8a8a8a" stroke-width="1"/>
<line x1="425.90" y1="158.5" x2="425.90" y2="154.5" stroke="#8a8a8a" stroke-width="1"/>
<line x1="425.90" y1="11.5" x2="425.90" y2="15.5" stroke="#8a8a8a" stroke-width="1"/>
<line x1="479.10" y1="158.5" x2="479.10" y2="154.5" stroke="#8a8a8a" stroke-width="1"/>
<line x1="479.10" y1="11.5" x2="479.10" y2="15.5" stroke="#8a8a8a" stroke-width="1"/>
<line x1="53.5" y1="14.6" x2="57.5" y2="14.6" stroke="#8a8a8a" stroke-width="1"/>
<line x1="532.0" y1="14.6" x2="528.0" y2="14.6" stroke="#8a8a8a" stroke-width="1"/>
<line x1="53.5" y1="84.85" x2="57.5" y2="84.85" stroke="#8a8a8a" stroke-width="1"/>
<line x1="532.0" y1="84.85" x2="528.0" y2="84.85" stroke="#8a8a8a" stroke-width="1"/>
<line x1="53.5" y1="155.1" x2="57.5" y2="155.1" stroke="#8a8a8a" stroke-width="1"/>
<line x1="532.0" y1="155.1" x2="528.0" y2="155.1" stroke="#8a8a8a" stroke-width="1"/>
<text x="48.69" y="181.73" font-family='"Liberation Sans", Arial, sans-serif' font-style="normal" font-size="17.30" fill="#111111" style="font-kerning:none" class="t">0</text>
<text x="94.70" y="181.73" font-family='"Liberation Sans", Arial, sans-serif' font-style="normal" font-size="17.30" fill="#111111" style="font-kerning:none" class="t">0.5</text>
<text x="156.13" y="181.90" font-family='"Liberation Sans", Arial, sans-serif' font-style="normal" font-size="17.30" fill="#111111" style="font-kerning:none" class="t">1</text><rect x="156.45" y="179.21" width="3.93" height="3.59" fill="#fff"/><rect x="162.11" y="179.21" width="3.60" height="3.59" fill="#fff"/>
<text x="200.61" y="181.73" font-family='"Liberation Sans", Arial, sans-serif' font-style="normal" font-size="17.30" fill="#111111" style="font-kerning:none" class="t">1.5</text><rect x="200.92" y="179.04" width="3.93" height="3.59" fill="#fff"/><rect x="206.59" y="179.04" width="3.60" height="3.59" fill="#fff"/>
<text x="261.49" y="181.90" font-family='"Liberation Sans", Arial, sans-serif' font-style="normal" font-size="17.30" fill="#111111" style="font-kerning:none" class="t">2</text>
<text x="307.40" y="181.73" font-family='"Liberation Sans", Arial, sans-serif' font-style="normal" font-size="17.30" fill="#111111" style="font-kerning:none" class="t">2.5</text>
<text x="367.94" y="181.73" font-family='"Liberation Sans", Arial, sans-serif' font-style="normal" font-size="17.30" fill="#111111" style="font-kerning:none" class="t">3</text>
<text x="413.91" y="181.73" font-family='"Liberation Sans", Arial, sans-serif' font-style="normal" font-size="17.30" fill="#111111" style="font-kerning:none" class="t">3.5</text>
<text x="474.34" y="181.90" font-family='"Liberation Sans", Arial, sans-serif' font-style="normal" font-size="17.30" fill="#111111" style="font-kerning:none" class="t">4</text>
<text x="520.44" y="181.73" font-family='"Liberation Sans", Arial, sans-serif' font-style="normal" font-size="17.30" fill="#111111" style="font-kerning:none" class="t">4.5</text>
<text x="39.22" y="21.85" font-family='"Liberation Sans", Arial, sans-serif' font-style="normal" font-size="17.30" fill="#111111" style="font-kerning:none" class="t">1</text><rect x="39.54" y="19.16" width="3.93" height="3.59" fill="#fff"/><rect x="45.20" y="19.16" width="3.60" height="3.59" fill="#fff"/>
<text x="36.65" y="92.11" font-family='"Liberation Sans", Arial, sans-serif' font-style="normal" font-size="17.30" fill="#111111" style="font-kerning:none" class="t">0</text>
<text x="39.22" y="162.35" font-family='"Liberation Sans", Arial, sans-serif' font-style="normal" font-size="17.30" fill="#111111" style="font-kerning:none" class="t">1</text><rect x="39.54" y="159.66" width="3.93" height="3.59" fill="#fff"/><rect x="45.20" y="159.66" width="3.60" height="3.59" fill="#fff"/>
<text x="31.83" y="162.00" font-family='"Liberation Sans", Arial, sans-serif' font-style="normal" font-size="17.30" fill="#111111" style="font-kerning:none" class="t">-</text>
<text x="55.90" y="26.80" font-family='"Liberation Sans", Arial, sans-serif' font-style="normal" font-size="17.80" fill="#111111" style="font-kerning:none" class="t">(a)</text>
<text transform="translate(278.48,202.02) scale(1.1342,1)" font-family='"Liberation Serif", "Times New Roman", serif' font-style="italic" font-size="18.66" fill="#262626" style="font-kerning:none" >J</text>
<text transform="translate(288.90,206.05) scale(1.0021,1)" font-family='"Liberation Serif", "Times New Roman", serif' font-style="normal" font-size="25.86" fill="#262626" style="font-kerning:none" >/</text>
<text transform="translate(297.20,201.64) scale(1.1126,1)" font-family='"Liberation Serif", "Times New Roman", serif' font-style="italic" font-size="16.64" fill="#262626" style="font-kerning:none" >π</text>
<text transform="translate(18.80,100.26) rotate(-90) scale(1.0460,1)" font-family='"Liberation Serif", "Times New Roman", serif' font-style="italic" font-size="19.55" fill="#262626" style="font-kerning:none" >E</text>
<text transform="translate(22.55,86.80) rotate(-90) scale(0.9825,1)" font-family='"Liberation Serif", "Times New Roman", serif' font-style="normal" font-size="26.01" fill="#262626" style="font-kerning:none" >/</text>
<text transform="translate(18.63,78.50) rotate(-90) scale(1.0508,1)" font-family='"Liberation Serif", "Times New Roman", serif' font-style="italic" font-size="17.07" fill="#262626" style="font-kerning:none" >π</text>
<line x1="150.01" y1="231.0" x2="150.01" y2="388.7" stroke="#e3e3e3" stroke-width="1"/>
<line x1="53.5" y1="381.3" x2="260.3" y2="381.3" stroke="#e3e3e3" stroke-width="1"/>
<rect x="53.5" y="231.0" width="206.8" height="157.7" fill="none" stroke="#8a8a8a" stroke-width="1.35"/>
<line x1="150.01" y1="388.7" x2="150.01" y2="385.7" stroke="#8a8a8a" stroke-width="1"/>
<line x1="150.01" y1="231.0" x2="150.01" y2="234.0" stroke="#8a8a8a" stroke-width="1"/>
<line x1="53.5" y1="381.3" x2="56.5" y2="381.3" stroke="#8a8a8a" stroke-width="1"/>
<line x1="260.3" y1="381.3" x2="257.3" y2="381.3" stroke="#8a8a8a" stroke-width="1"/>
<g stroke="#1a7fc6" stroke-width="0.85" fill="none"><path d="M49.10,381.20H57.90M53.50,376.80V385.60M50.33,378.03L56.67,384.37M50.33,384.37L56.67,378.03"/><path d="M62.89,381.20H71.69M67.29,376.80V385.60M64.12,378.03L70.45,384.37M64.12,384.37L70.45,378.03"/><path d="M76.67,381.20H85.47M81.07,376.80V385.60M77.91,378.03L84.24,384.37M77.91,384.37L84.24,378.03"/><path d="M90.46,381.20H99.26M94.86,376.80V385.60M91.69,378.03L98.03,384.37M91.69,384.37L98.03,378.03"/><path d="M104.25,381.20H113.05M108.65,376.80V385.60M105.48,378.03L111.81,384.37M105.48,384.37L111.81,378.03"/><path d="M118.03,381.20H126.83M122.43,376.80V385.60M119.27,378.03L125.60,384.37M119.27,384.37L125.60,378.03"/><path d="M131.82,381.20H140.62M136.22,376.80V385.60M133.05,378.03L139.39,384.37M133.05,384.37L139.39,378.03"/><path d="M145.61,381.20H154.41M150.01,376.80V385.60M146.84,378.03L153.17,384.37M146.84,384.37L153.17,378.03"/><path d="M159.39,381.20H168.19M163.79,376.80V385.60M160.63,378.03L166.96,384.37M160.63,384.37L166.96,378.03"/><path d="M173.18,381.20H181.98M177.58,376.80V385.60M174.41,378.03L180.75,384.37M174.41,384.37L180.75,378.03"/><path d="M186.97,381.20H195.77M191.37,376.80V385.60M188.20,378.03L194.53,384.37M188.20,384.37L194.53,378.03"/><path d="M200.75,381.20H209.55M205.15,376.80V385.60M201.99,378.03L208.32,384.37M201.99,384.37L208.32,378.03"/><path d="M214.54,237.30H223.34M218.94,232.90V241.70M215.77,234.13L222.11,240.47M215.77,240.47L222.11,234.13"/><path d="M228.33,237.30H237.13M232.73,232.90V241.70M229.56,234.13L235.89,240.47M229.56,240.47L235.89,234.13"/><path d="M242.11,237.30H250.91M246.51,232.90V241.70M243.35,234.13L249.68,240.47M243.35,240.47L249.68,234.13"/><path d="M255.90,237.30H264.70M260.30,232.90V241.70M257.13,234.13L263.47,240.47M257.13,240.47L263.47,234.13"/></g>
<text x="49.73" y="412.20" font-family='"Liberation Sans", Arial, sans-serif' font-style="normal" font-size="17.30" fill="#111111" style="font-kerning:none" class="t">1</text><rect x="50.05" y="409.51" width="3.93" height="3.59" fill="#fff"/><rect x="55.71" y="409.51" width="3.60" height="3.59" fill="#fff"/>
<text x="250.53" y="412.03" font-family='"Liberation Sans", Arial, sans-serif' font-style="normal" font-size="17.30" fill="#111111" style="font-kerning:none" class="t">16</text><rect x="250.84" y="409.34" width="3.93" height="3.59" fill="#fff"/><rect x="256.51" y="409.34" width="3.60" height="3.59" fill="#fff"/>
<text x="36.65" y="388.56" font-family='"Liberation Sans", Arial, sans-serif' font-style="normal" font-size="17.30" fill="#111111" style="font-kerning:none" class="t">0</text>
<text x="55.70" y="247.40" font-family='"Liberation Sans", Arial, sans-serif' font-style="normal" font-size="17.80" fill="#111111" style="font-kerning:none" class="t">(b)</text>
<text transform="translate(154.56,416.25) scale(1.3436,1)" font-family='"Liberation Serif", "Times New Roman", serif' font-style="italic" font-size="17.14" fill="#262626" style="font-kerning:none" >j</text>
<text transform="translate(27.75,330.96) rotate(-90) scale(1.0437,1)" font-family='"Liberation Serif", "Times New Roman", serif' font-style="normal" font-size="19.24" fill="#262626" style="font-kerning:none" >|</text>
<text transform="translate(27.20,325.16) rotate(-90) scale(1.1449,1)" font-family='"Liberation Serif", "Times New Roman", serif' font-style="italic" font-size="17.72" fill="#262626" style="font-kerning:none" >E</text>
<text transform="translate(27.75,312.21) rotate(-90) scale(1.0437,1)" font-family='"Liberation Serif", "Times New Roman", serif' font-style="normal" font-size="19.24" fill="#262626" style="font-kerning:none" >|</text>
<text transform="translate(31.65,306.70) rotate(-90) scale(0.8907,1)" font-family='"Liberation Serif", "Times New Roman", serif' font-style="normal" font-size="25.86" fill="#262626" style="font-kerning:none" >/</text>
<text transform="translate(27.05,298.10) rotate(-90) scale(1.2010,1)" font-family='"Liberation Serif", "Times New Roman", serif' font-style="italic" font-size="14.93" fill="#262626" style="font-kerning:none" >π</text>
<line x1="435.41" y1="231.0" x2="435.41" y2="388.7" stroke="#e3e3e3" stroke-width="1"/>
<line x1="325.6" y1="240.2" x2="531.5" y2="240.2" stroke="#e3e3e3" stroke-width="1"/>
<line x1="325.6" y1="333.3" x2="531.5" y2="333.3" stroke="#e3e3e3" stroke-width="1"/>
<rect x="325.6" y="231.0" width="205.89999999999998" height="157.7" fill="none" stroke="#8a8a8a" stroke-width="1.35"/>
<line x1="435.41" y1="388.7" x2="435.41" y2="385.7" stroke="#8a8a8a" stroke-width="1"/>
<line x1="435.41" y1="231.0" x2="435.41" y2="234.0" stroke="#8a8a8a" stroke-width="1"/>
<line x1="325.6" y1="240.2" x2="328.6" y2="240.2" stroke="#8a8a8a" stroke-width="1"/>
<line x1="531.5" y1="240.2" x2="528.5" y2="240.2" stroke="#8a8a8a" stroke-width="1"/>
<line x1="325.6" y1="333.3" x2="328.6" y2="333.3" stroke="#8a8a8a" stroke-width="1"/>
<line x1="531.5" y1="333.3" x2="528.5" y2="333.3" stroke="#8a8a8a" stroke-width="1"/>
<g stroke="#3d8fd1" stroke-width="1.15" fill="none"><circle cx="325.60" cy="382.8" r="4.4"/><circle cx="339.33" cy="382.8" r="4.4"/><circle cx="353.05" cy="382.8" r="4.4"/><circle cx="366.78" cy="382.8" r="4.4"/><circle cx="380.51" cy="244.6" r="4.4"/><circle cx="394.23" cy="244.6" r="4.4"/><circle cx="407.96" cy="244.6" r="4.4"/><circle cx="421.69" cy="244.6" r="4.4"/><circle cx="435.41" cy="241.0" r="4.4"/><circle cx="449.14" cy="241.0" r="4.4"/><circle cx="462.87" cy="241.0" r="4.4"/><circle cx="476.59" cy="241.0" r="4.4"/><circle cx="490.32" cy="241.0" r="4.4"/><circle cx="504.05" cy="241.0" r="4.4"/><circle cx="517.77" cy="241.0" r="4.4"/><circle cx="531.50" cy="241.0" r="4.4"/></g>
<text x="305.70" y="412.23" font-family='"Liberation Sans", Arial, sans-serif' font-style="normal" font-size="17.30" fill="#111111" style="font-kerning:none" class="t">N-15</text><rect x="324.28" y="409.54" width="3.93" height="3.59" fill="#fff"/><rect x="329.94" y="409.54" width="3.60" height="3.59" fill="#fff"/>
<text x="525.65" y="412.40" font-family='"Liberation Sans", Arial, sans-serif' font-style="normal" font-size="17.30" fill="#111111" style="font-kerning:none" class="t">N</text>
<text x="310.72" y="247.45" font-family='"Liberation Sans", Arial, sans-serif' font-style="normal" font-size="17.30" fill="#111111" style="font-kerning:none" class="t">1</text><rect x="311.04" y="244.76" width="3.93" height="3.59" fill="#fff"/><rect x="316.70" y="244.76" width="3.60" height="3.59" fill="#fff"/>
<text x="327.10" y="247.30" font-family='"Liberation Sans", Arial, sans-serif' font-style="normal" font-size="17.80" fill="#111111" style="font-kerning:none" class="t">(c)</text>
<text transform="translate(426.16,416.25) scale(1.3436,1)" font-family='"Liberation Serif", "Times New Roman", serif' font-style="italic" font-size="17.14" fill="#262626" style="font-kerning:none" >j</text>
</svg>
</body></html>
